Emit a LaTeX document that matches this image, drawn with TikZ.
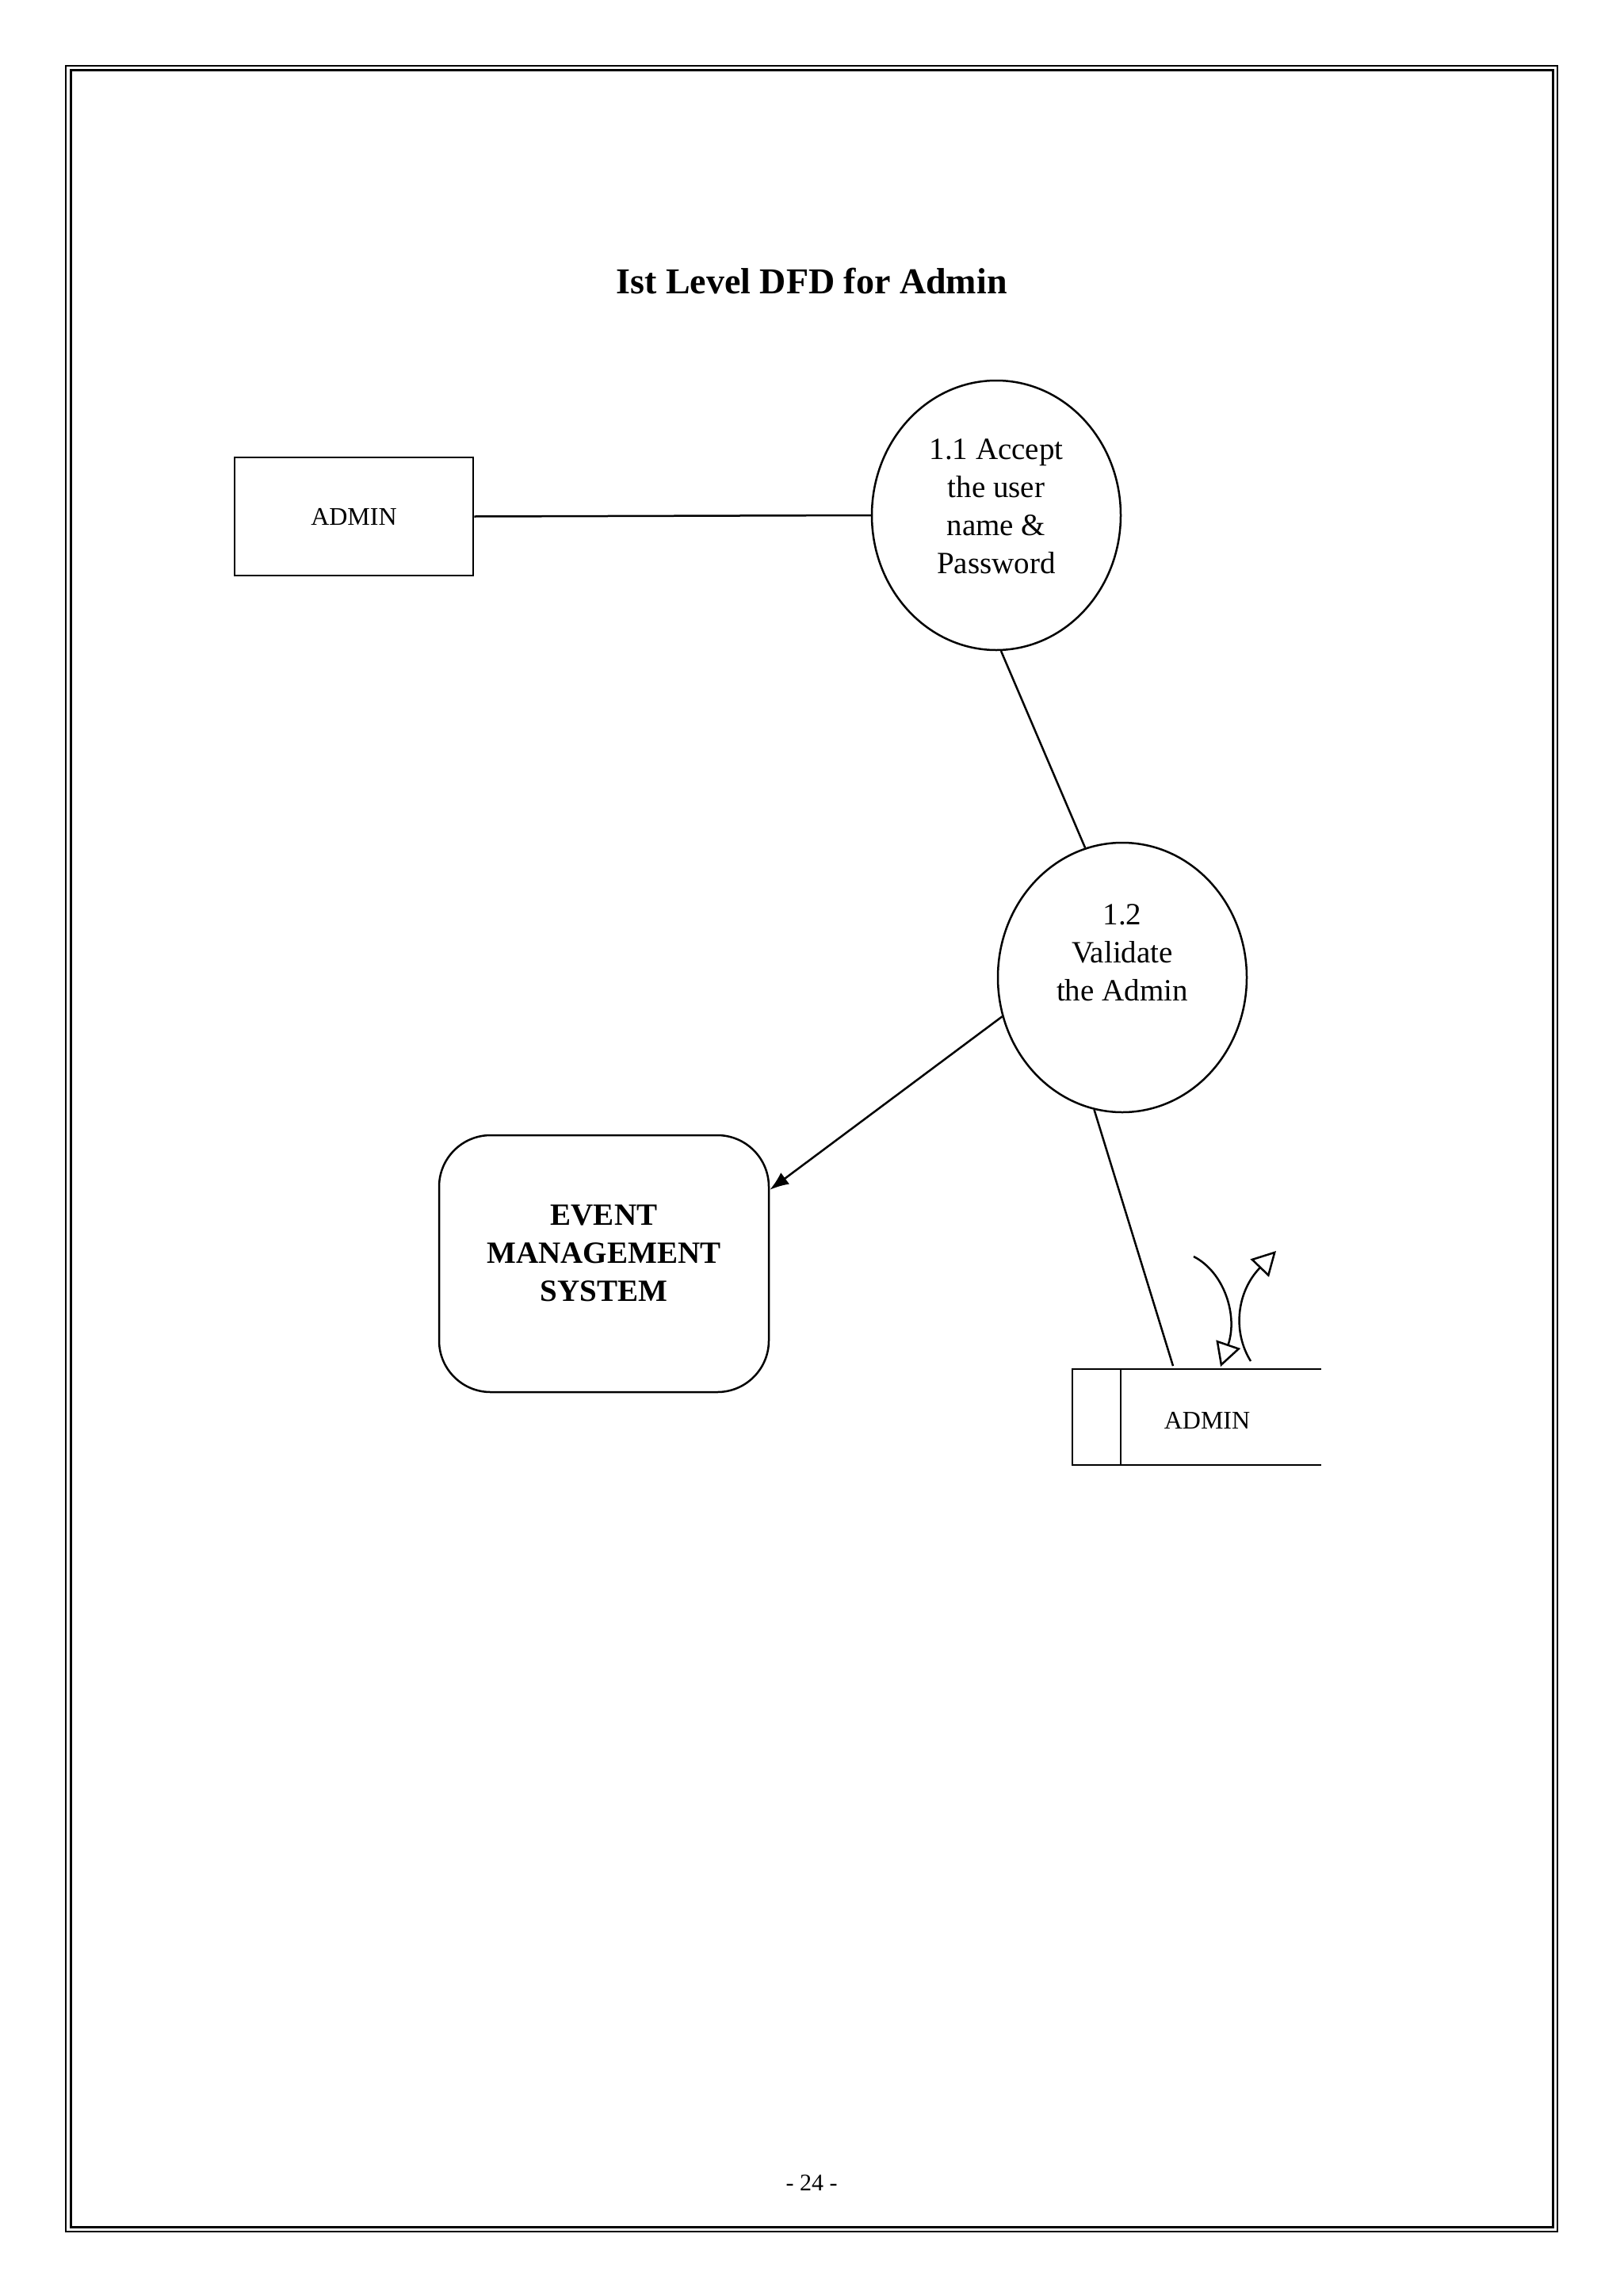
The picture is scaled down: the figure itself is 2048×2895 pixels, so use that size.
\documentclass[tikz,border=0pt]{standalone}
\usepackage{fontspec}
\setmainfont{Liberation Serif}
\usetikzlibrary{arrows.meta,shapes.geometric}
\begin{document}
\begin{tikzpicture}[x=1pt,y=-1pt,line width=2.5pt,
  proc/.style={draw,ellipse,minimum width=314pt,minimum height=340pt,inner sep=0pt},
  ptext/.style={align=center,font=\fontsize{39}{48}\selectfont},
  entity/.style={draw,rectangle,minimum width=301pt,minimum height=149pt,font=\fontsize{32}{38}\selectfont},
  flow/.style={-{Triangle[open,length=30pt,width=32pt]}}]
\useasboundingbox (0,0) rectangle (2048,2895);
\draw[line width=1.5pt] (83,83) rectangle (1965,2815);
\draw[line width=3pt] (89,89) rectangle (1959,2809);
\node[font=\bfseries\fontsize{46}{54}\selectfont] (title) at (1024,355) {Ist Level DFD for Admin};
\node[entity] (admin) at (446.5,651.5) {ADMIN};
\node[proc] (p1) at (1257,650) {};
\node[ptext] (p1t) at (1257,639) {1.1 Accept\\the user\\name \&\\Password};
\node[proc] (p2) at (1416,1233) {};
\node[ptext] (p2t) at (1416,1202) {1.2\\Validate\\the Admin};
\node[draw,rounded corners=65pt,minimum width=416pt,minimum height=324pt] (ems) at (762,1594) {};
\node[align=center,font=\bfseries\fontsize{39}{48}\selectfont] (emst) at (762,1581) {EVENT\\MANAGEMENT\\SYSTEM};
\draw (admin.east) -- (p1.west);
\draw (p1.-88) -- (p2.106);
\draw[-{Latex[length=24pt,width=18pt]}] (p2.198) -- (ems.24);
% data store
\coordinate (st1) at (1667,1727);
\coordinate (st2) at (1667,1848);
\draw (st1) -- (1353,1727) -- (1353,1848) -- (st2);
\draw (1414,1727) -- (1414,1848);
\node[font=\fontsize{32}{38}\selectfont] (store) at (1523,1792) {ADMIN};
\coordinate (stt) at (1480,1723);
\draw (p2.-102) -- (stt);
\coordinate (a1s) at (1506,1585);
\coordinate (a1e) at (1540,1724);
\coordinate (a2s) at (1578,1717);
\coordinate (a2e) at (1610,1578);
\draw[flow] (a1s) .. controls (1545,1605) and (1562,1660) .. (a1e);
\draw[flow] (a2s) .. controls (1555,1680) and (1560,1630) .. (a2e);
\node[font=\fontsize{30}{36}\selectfont] (pg) at (1024,2754) {- 24 -};
\end{tikzpicture}
\end{document}
